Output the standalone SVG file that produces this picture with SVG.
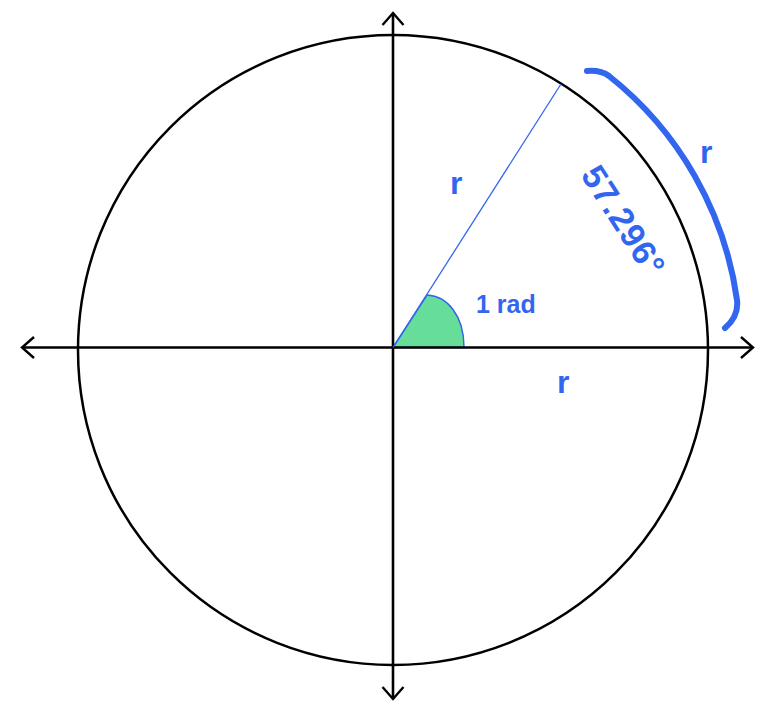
<svg xmlns="http://www.w3.org/2000/svg" width="768" height="717" viewBox="0 0 768 717">
<style>
.lbl{font-family:"Liberation Sans",Arial,sans-serif;font-weight:bold;fill:#3366ee}
.ax{stroke:#000;stroke-width:2.6;fill:none}
</style>
<defs>
<marker id="arr" markerUnits="userSpaceOnUse" markerWidth="30" markerHeight="30" viewBox="-15 -15 30 30" refX="0" refY="0" orient="auto">
<path d="M-12,-10.5 L0,0 L-12,10.5" fill="none" stroke="#000" stroke-width="2.4"/>
</marker>
</defs>
<rect width="768" height="717" fill="#fff"/>
<g id="circle"><circle cx="393" cy="350" r="315" fill="none" stroke="#000" stroke-width="2.5"/></g>
<g id="angle"><path d="M393,347.5 L427,295 C447,296 464,315 464,347.5 Z" fill="#66dd99" stroke="#3366ee" stroke-width="1.5"/></g>
<g id="connectors">
<line class="ax" x1="393" y1="347.5" x2="22" y2="347.5" marker-end="url(#arr)"/>
<line class="ax" x1="393" y1="347.5" x2="753" y2="347.5" marker-end="url(#arr)"/>
<line class="ax" x1="393" y1="347.5" x2="393" y2="13" marker-end="url(#arr)"/>
<line class="ax" x1="393" y1="347.5" x2="393" y2="699" marker-end="url(#arr)"/>
<line x1="393" y1="347.5" x2="561" y2="84" stroke="#3366ee" stroke-width="1.3"/>
</g>
<g id="arc-r"><path d="M587,71 Q601,70 609,76 A347,347 0 0 1 737,300 Q739,316 725,328" fill="none" stroke="#3366ee" stroke-width="6" stroke-linecap="round" stroke-linejoin="round"/></g>
<g id="labels">
<text class="lbl" x="450" y="194" font-size="32">r</text>
<text class="lbl" x="557" y="393" font-size="32">r</text>
<text class="lbl" x="700" y="163" font-size="32">r</text>
<text class="lbl" x="476" y="313" font-size="25">1 rad</text>
<text class="lbl" x="580" y="175" font-size="34" letter-spacing="1" transform="rotate(57.3 580 175)">57.296°</text>
</g>
</svg>
